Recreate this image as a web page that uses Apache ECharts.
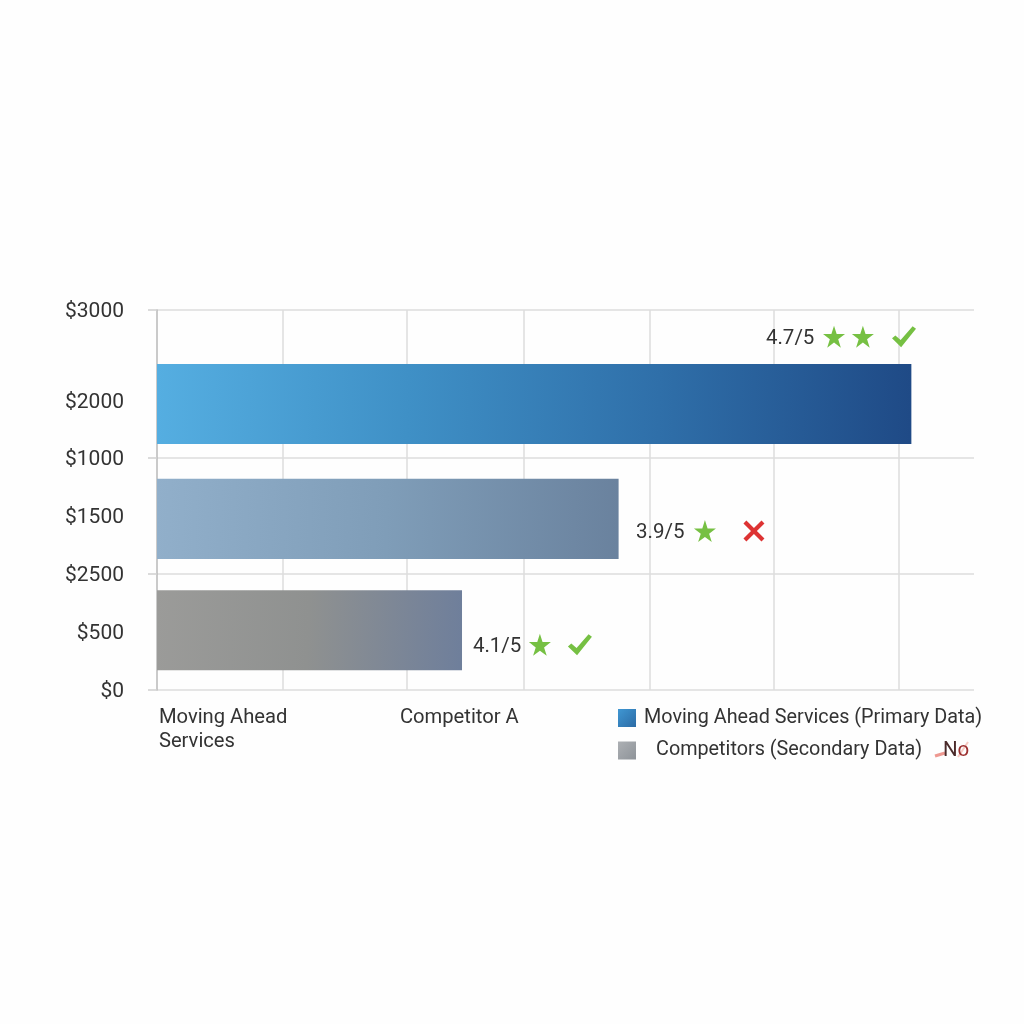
<!DOCTYPE html>
<html>
<head>
<meta charset="utf-8">
<script src="https://cdn.jsdelivr.net/npm/echarts@6/dist/echarts.min.js"></script>
<style>
  html, body { margin: 0; background: #fff; }
  #chart { width: 1024px; height: 1024px; }
</style>
</head>
<body>
<div id="chart"></div>
<script>
// y axis reads in label slots, the printed dollar labels are not in order
var yTickLabels = ['$0', '$500', '$2500', '$1500', '$1000', '$2000', '$3000'];
var yTickSlots = [0, 1, 2, 3, 4, 4.98, 6.55];
var yGridSlots = [0, 2, 4, 6.55];

var xGridValues = [463, 918, 1348, 1810, 2266, 2725];
var xLabelValues = [7, 892];
var xLabels = ['Moving Ahead\nServices', 'Competitor A'];

var primaryName = 'Moving Ahead Services (Primary Data)';
var secondaryName = 'Competitors (Secondary Data)';
var primaryBars = [[2770, 4.93]];
var secondaryBars = [[1695, 2.95], [1120, 1.03]];

var ratings = [[2236, 6.05, '4.7/5'], [1759, 2.70, '3.9/5'], [1160, 0.74, '4.1/5']];
var stars = [[2486, 6.09], [2592, 6.09], [2012, 2.74], [1406, 0.78]];
var checks = [[2743, 6.09], [1553, 0.78]];
var crosses = [[2192, 2.74]];

var barSlotHalf = 0.69;
var gridColor = '#dcdcdc';
var textColor = '#333333';
var fontName = 'Roboto';

var starPath = 'path://M50 0L62 36L100 36L69 59L81 95L50 73L19 95L31 59L0 36L38 36Z';
var checkPath = 'path://M0 58L14 44L36 66L86 0L100 12L38 100Z';
var crossPath = 'path://M14 0L50 36L86 0L100 14L64 50L100 86L86 100L50 64L14 100L0 86L36 50L0 14Z';

function ramp(stops) {
  return new echarts.graphic.LinearGradient(0, 0, 1, 0.15, stops.map(function (c, i) {
    return { offset: i / (stops.length - 1), color: c };
  }));
}

var barFills = {};
barFills[2770] = ramp(['#55aee1', '#3f90c6', '#2f6fa9', '#1f4a86']);
barFills[1695] = ramp(['#91afca', '#7f9db8', '#6a829e']);
barFills[1120] = ramp(['#9b9b99', '#8f9190', '#6f7f9b']);

function renderBar(params, api) {
  var left = api.coord([0, api.value(1) + barSlotHalf]);
  var right = api.coord([api.value(0), api.value(1) - barSlotHalf]);
  return {
    type: 'rect',
    shape: { x: left[0], y: left[1], width: right[0] - left[0], height: right[1] - left[1] },
    style: { fill: barFills[api.value(0)] }
  };
}

function renderRating(params, api) {
  var p = api.coord([api.value(0), api.value(1)]);
  return {
    type: 'text',
    style: {
      x: p[0], y: p[1], text: ratings[params.dataIndex][2],
      fill: textColor, font: '20.5px ' + fontName,
      textAlign: 'left', textVerticalAlign: 'middle'
    }
  };
}

function marks(data, path, size, color) {
  return {
    type: 'scatter', data: data, symbol: path, symbolSize: size, z: 5,
    itemStyle: { color: color, opacity: 1 }, silent: true
  };
}

var chart = echarts.init(document.getElementById('chart'));

var option = {
  backgroundColor: '#fefefe',
  animation: false,
  textStyle: { fontFamily: fontName },
  grid: { left: 157, right: 50, top: 310, bottom: 334 },
  legend: {
    left: 613, top: 703, orient: 'vertical', itemGap: 12,
    itemWidth: 18, itemHeight: 18, icon: 'rect',
    selectedMode: false,
    data: [
      { name: primaryName, textStyle: { padding: [0, 0, 0, 3] } },
      { name: secondaryName, textStyle: { padding: [0, 0, 0, 15] } }
    ],
    formatter: function (name) {
      return name === secondaryName ? name + '   {no|N}{oh|o}' : name;
    },
    textStyle: {
      fontFamily: fontName, fontSize: 19.8, color: textColor,
      rich: {
        no: { fontFamily: fontName, fontSize: 20.5, color: '#4a2a2a', padding: [0, 0, 0, 6] },
        oh: { fontFamily: fontName, fontSize: 20.5, color: '#9c3030' }
      }
    }
  },
  xAxis: {
    type: 'value', min: 0, max: 3000,
    axisLine: { show: false },
    axisTick: { show: false, customValues: xGridValues },
    splitLine: { show: true, lineStyle: { color: gridColor, width: 1.5 } },
    axisLabel: {
      customValues: xLabelValues, margin: 16, align: 'left',
      fontSize: 20.2, lineHeight: 24, color: textColor, fontFamily: fontName,
      formatter: function (v) { return xLabels[xLabelValues.indexOf(v)]; }
    }
  },
  yAxis: {
    type: 'value', min: 0, max: 6.55,
    axisLine: { show: true, lineStyle: { color: '#b8b8b8', width: 1.5 } },
    axisTick: { show: true, length: 9, customValues: yGridSlots, lineStyle: { color: '#d0d0d0', width: 1.5 } },
    splitLine: { show: true, lineStyle: { color: gridColor, width: 1.5 } },
    axisLabel: {
      customValues: yTickSlots, margin: 33,
      formatter: function (v) { return '{t|' + yTickLabels[yTickSlots.indexOf(v)] + '}'; },
      rich: {
        t: { fontSize: 21, color: textColor, fontFamily: fontName, padding: [4, 0, 0, 0] }
      }
    }
  },
  graphic: [
    { type: 'line', shape: { x1: 935, y1: 756, x2: 945, y2: 753 }, style: { stroke: '#e8776c', lineWidth: 3, opacity: 0.75 }, z: 0 },
    { type: 'line', shape: { x1: 958, y1: 757, x2: 968, y2: 742 }, style: { stroke: '#f3b3aa', lineWidth: 2, opacity: 0.7 }, z: 0 }
  ],
  series: [
    {
      name: primaryName, type: 'custom', data: primaryBars, renderItem: renderBar,
      encode: { x: 0, y: 1 }, z: 3,
      itemStyle: { color: new echarts.graphic.LinearGradient(0, 0, 1, 1, [{ offset: 0, color: '#3f97d3' }, { offset: 1, color: '#2c6ba5' }]) }
    },
    {
      name: secondaryName, type: 'custom', data: secondaryBars, renderItem: renderBar,
      encode: { x: 0, y: 1 }, z: 3,
      itemStyle: { color: new echarts.graphic.LinearGradient(0, 0, 1, 1, [{ offset: 0, color: '#adb0b4' }, { offset: 1, color: '#8e9399' }]) }
    },
    { type: 'custom', data: ratings, renderItem: renderRating, encode: { x: 0, y: 1 }, z: 5, silent: true },
    marks(stars, starPath, 22, '#76c043'),
    marks(checks, checkPath, [24, 21], '#76c043'),
    marks(crosses, crossPath, 21, '#dd3333')
  ]
};

chart.setOption(option);
</script>
</body>
</html>
